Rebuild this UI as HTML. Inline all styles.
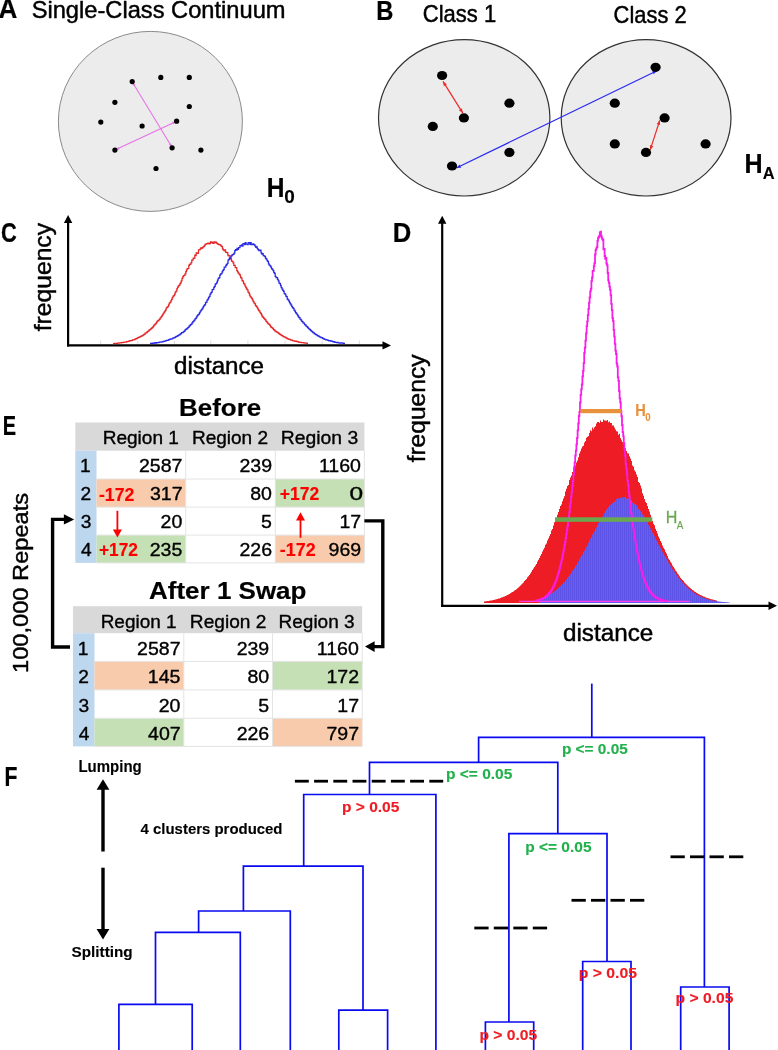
<!DOCTYPE html>
<html><head><meta charset="utf-8"><title>Figure</title>
<style>html,body{margin:0;padding:0;background:#fff}svg{display:block}text{font-family:"Liberation Sans",Arial,sans-serif}</style>
</head><body>
<svg width="778" height="1050" viewBox="0 0 778 1050">
<rect width="778" height="1050" fill="#fff"/>
<text transform="translate(-1.45,18.2) scale(0.9638,1)" font-size="27.1" font-weight="bold" fill="#000"  stroke="#000" stroke-width="0.22" stroke-linejoin="round">A</text>
<text transform="translate(31.63,18.3) scale(1.0078,1)" font-size="23.5" font-weight="normal" fill="#000"  stroke="#000" stroke-width="0.45" stroke-linejoin="round">Single-Class Continuum</text>
<ellipse cx="150.4" cy="121.4" rx="92" ry="90" fill="#ececec" stroke="#8a8a8a" stroke-width="1"/>
<line x1="132.6" y1="82.6" x2="171.7" y2="146.8" stroke="#e670e6" stroke-width="1.05" />
<polygon points="171.7,146.8 168.8,144.8 171.2,143.3" fill="#e670e6"/>
<polygon points="132.6,82.6 135.5,84.6 133.1,86.1" fill="#e670e6"/>
<line x1="116.0" y1="149.6" x2="175.6" y2="121.7" stroke="#e670e6" stroke-width="1.05" />
<polygon points="175.6,121.7 173.3,124.3 172.1,121.8" fill="#e670e6"/>
<polygon points="116.0,149.6 118.3,147.0 119.5,149.5" fill="#e670e6"/>
<circle cx="132.2" cy="81.6" r="2.6" fill="#000"/>
<circle cx="160.8" cy="77.4" r="2.6" fill="#000"/>
<circle cx="189.3" cy="77.4" r="2.6" fill="#000"/>
<circle cx="114.9" cy="102.3" r="2.6" fill="#000"/>
<circle cx="189.3" cy="106.5" r="2.6" fill="#000"/>
<circle cx="100.8" cy="122.1" r="2.6" fill="#000"/>
<circle cx="142.1" cy="126.0" r="2.6" fill="#000"/>
<circle cx="176.6" cy="121.2" r="2.6" fill="#000"/>
<circle cx="114.9" cy="150.1" r="2.6" fill="#000"/>
<circle cx="172.1" cy="147.8" r="2.6" fill="#000"/>
<circle cx="200.9" cy="150.1" r="2.6" fill="#000"/>
<circle cx="156.0" cy="168.5" r="2.6" fill="#000"/>
<text transform="translate(266.70,197.3) scale(0.9069,1)" font-size="27.1" font-weight="bold" fill="#000"  stroke="#000" stroke-width="0.22" stroke-linejoin="round">H</text>
<text transform="translate(284.24,203.2) scale(1.0645,1)" font-size="17.8" font-weight="bold" fill="#000"  stroke="#000" stroke-width="0.14" stroke-linejoin="round">0</text>
<text transform="translate(376.15,19.7) scale(0.8771,1)" font-size="27.1" font-weight="bold" fill="#000"  stroke="#000" stroke-width="0.22" stroke-linejoin="round">B</text>
<text transform="translate(422.80,21.6) scale(0.9379,1)" font-size="23.5" font-weight="normal" fill="#000"  stroke="#000" stroke-width="0.45" stroke-linejoin="round">Class 1</text>
<text transform="translate(613.60,22.8) scale(0.9326,1)" font-size="23.5" font-weight="normal" fill="#000"  stroke="#000" stroke-width="0.45" stroke-linejoin="round">Class 2</text>
<ellipse cx="464.2" cy="117.8" rx="85.7" ry="78.2" fill="#ececec" stroke="#333" stroke-width="1.2"/>
<ellipse cx="646.1" cy="117.8" rx="84.9" ry="78.2" fill="#ececec" stroke="#333" stroke-width="1.2"/>
<line x1="456.3" y1="168.0" x2="657.0" y2="70.7" stroke="#2a2af0" stroke-width="1.2" />
<polygon points="657.0,70.7 653.7,74.3 652.2,71.0" fill="#2a2af0"/>
<polygon points="456.3,168.0 459.6,164.4 461.1,167.7" fill="#2a2af0"/>
<line x1="443.0" y1="81.4" x2="462.8" y2="113.1" stroke="#ee2a2a" stroke-width="1.2" />
<polygon points="462.8,113.1 458.9,110.2 461.9,108.3" fill="#ee2a2a"/>
<polygon points="443.0,81.4 446.9,84.3 443.9,86.2" fill="#ee2a2a"/>
<line x1="659.8" y1="120.2" x2="650.2" y2="149.9" stroke="#ee2a2a" stroke-width="1.2" />
<polygon points="650.2,149.9 649.9,145.1 653.3,146.2" fill="#ee2a2a"/>
<polygon points="659.8,120.2 660.1,125.0 656.7,123.9" fill="#ee2a2a"/>
<ellipse cx="442.1" cy="75.5" rx="5.1" ry="4.6" fill="#000"/>
<ellipse cx="509.4" cy="103.2" rx="5.1" ry="4.6" fill="#000"/>
<ellipse cx="463.9" cy="117.9" rx="5.1" ry="4.6" fill="#000"/>
<ellipse cx="432.8" cy="126.4" rx="5.1" ry="4.6" fill="#000"/>
<ellipse cx="509.4" cy="152.4" rx="5.1" ry="4.6" fill="#000"/>
<ellipse cx="452" cy="166" rx="5.1" ry="4.6" fill="#000"/>
<ellipse cx="655.6" cy="67.3" rx="5.1" ry="4.6" fill="#000"/>
<ellipse cx="614.8" cy="103.2" rx="5.1" ry="4.6" fill="#000"/>
<ellipse cx="664.6" cy="117.9" rx="5.1" ry="4.6" fill="#000"/>
<ellipse cx="614.8" cy="143.9" rx="5.1" ry="4.6" fill="#000"/>
<ellipse cx="646" cy="152.4" rx="5.1" ry="4.6" fill="#000"/>
<ellipse cx="705.6" cy="143.9" rx="5.1" ry="4.6" fill="#000"/>
<text transform="translate(744.47,173.2) scale(0.9256,1)" font-size="27.1" font-weight="bold" fill="#000"  stroke="#000" stroke-width="0.22" stroke-linejoin="round">H</text>
<text transform="translate(762.69,178.9) scale(0.9545,1)" font-size="17.2" font-weight="bold" fill="#000"  stroke="#000" stroke-width="0.14" stroke-linejoin="round">A</text>
<text transform="translate(1.03,241.7) scale(0.8056,1)" font-size="27.1" font-weight="bold" fill="#000"  stroke="#000" stroke-width="0.22" stroke-linejoin="round">C</text>
<text transform="translate(50.7,331.37) rotate(-90) scale(1.0735,1)" font-size="23" font-weight="normal" fill="#000" stroke="#000" stroke-width="0.44" stroke-linejoin="round">frequency</text>
<line x1="68.1" y1="346.5" x2="68.1" y2="221.0" stroke="#000" stroke-width="2.2" />
<polygon points="68.1,215.0 72.3,223.0 63.9,223.0" fill="#000"/>
<line x1="100.6" y1="340.5" x2="100.6" y2="344.3" stroke="#dcdcdc" stroke-width="1" />
<line x1="137.8" y1="340.5" x2="137.8" y2="344.3" stroke="#dcdcdc" stroke-width="1" />
<line x1="174.5" y1="340.5" x2="174.5" y2="344.3" stroke="#dcdcdc" stroke-width="1" />
<line x1="210.8" y1="340.5" x2="210.8" y2="344.3" stroke="#dcdcdc" stroke-width="1" />
<line x1="247.9" y1="340.5" x2="247.9" y2="344.3" stroke="#dcdcdc" stroke-width="1" />
<line x1="285.0" y1="340.5" x2="285.0" y2="344.3" stroke="#dcdcdc" stroke-width="1" />
<line x1="322.2" y1="340.5" x2="322.2" y2="344.3" stroke="#dcdcdc" stroke-width="1" />
<line x1="359.4" y1="340.5" x2="359.4" y2="344.3" stroke="#dcdcdc" stroke-width="1" />
<line x1="67.0" y1="345.4" x2="384.0" y2="345.4" stroke="#000" stroke-width="2.2" />
<polygon points="391.0,345.4 382.5,349.6 382.5,341.2" fill="#000"/>
<path d="M113.0,343.6H113.8V343.5H114.5V343.4H115.2V343.4H116.0V343.3H116.8V343.4H117.5V343.0H118.2V343.2H119.0V342.8H119.8V342.9H120.5V342.9H121.2V342.7H122.0V342.7H122.8V342.3H123.5V342.3H124.2V342.2H125.0V342.2H125.8V342.0H126.5V341.7H127.2V341.5H128.0V341.4H128.8V341.0H129.5V340.9H130.2V340.6H131.0V340.6H131.8V340.4H132.5V339.9H133.2V339.8H134.0V339.5H134.8V339.1H135.5V338.9H136.2V338.5H137.0V338.2H137.8V337.6H138.5V337.4H139.2V337.1H140.0V336.5H140.8V336.3H141.5V335.8H142.2V335.5H143.0V335.1H143.8V334.4H144.5V334.1H145.2V333.2H146.0V332.9H146.8V332.0H147.5V331.4H148.2V331.1H149.0V330.2H149.8V329.6H150.5V329.2H151.2V328.3H152.0V327.5H152.8V326.9H153.5V325.9H154.2V324.8H155.0V324.2H155.8V323.4H156.5V322.1H157.2V321.2H158.0V320.7H158.8V319.8H159.5V319.0H160.2V317.9H161.0V316.8H161.8V315.9H162.5V314.7H163.2V313.4H164.0V312.1H164.8V311.1H165.5V309.9H166.2V307.9H167.0V307.2H167.8V306.5H168.5V304.9H169.2V303.1H170.0V302.3H170.8V300.8H171.5V299.4H172.2V297.7H173.0V296.0H173.8V295.5H174.5V294.0H175.2V292.1H176.0V291.2H176.8V288.8H177.5V287.3H178.2V285.9H179.0V285.4H179.8V283.9H180.5V282.8H181.2V280.9H182.0V278.4H182.8V276.7H183.5V275.5H184.2V275.3H185.0V273.9H185.8V271.5H186.5V269.8H187.2V268.6H188.0V268.3H188.8V265.4H189.5V264.4H190.2V264.1H191.0V262.5H191.8V260.1H192.5V259.8H193.2V258.2H194.0V258.3H194.8V255.2H195.5V255.7H196.2V252.9H197.0V253.3H197.8V253.0H198.5V249.9H199.2V249.8H200.0V249.2H200.8V247.8H201.5V248.3H202.2V247.5H203.0V246.8H203.8V246.3H204.5V245.4H205.2V244.1H206.0V244.0H206.8V243.6H207.5V243.4H208.2V243.2H209.0V243.8H209.8V243.3H210.5V241.8H211.2V242.7H212.0V242.1H212.8V243.3H213.5V243.2H214.2V241.9H215.0V242.6H215.8V242.1H216.5V243.2H217.2V243.7H218.0V244.4H218.8V244.6H219.5V244.7H220.2V245.0H221.0V246.2H221.8V246.6H222.5V248.9H223.2V249.9H224.0V250.6H224.8V249.8H225.5V252.2H226.2V252.3H227.0V252.5H227.8V255.0H228.5V255.9H229.2V255.6H230.0V258.7H230.8V259.2H231.5V261.1H232.2V261.4H233.0V262.9H233.8V265.3H234.5V265.4H235.2V267.6H236.0V267.7H236.8V270.6H237.5V271.9H238.2V273.1H239.0V274.0H239.8V275.1H240.5V277.3H241.2V278.2H242.0V280.7H242.8V281.1H243.5V283.3H244.2V284.0H245.0V286.2H245.8V287.7H246.5V288.8H247.2V289.9H248.0V292.0H248.8V293.1H249.5V295.1H250.2V296.5H251.0V297.6H251.8V298.5H252.5V300.2H253.2V301.7H254.0V303.2H254.8V303.8H255.5V305.6H256.2V306.4H257.0V307.6H257.8V309.0H258.5V310.4H259.2V311.2H260.0V312.7H260.8V313.6H261.5V315.0H262.2V316.5H263.0V317.3H263.8V318.4H264.5V319.2H265.2V319.8H266.0V321.3H266.8V322.2H267.5V323.1H268.2V323.8H269.0V324.4H269.8V325.4H270.5V326.5H271.2V327.4H272.0V327.9H272.8V328.7H273.5V329.6H274.2V330.2H275.0V331.0H275.8V331.5H276.5V331.9H277.2V332.4H278.0V332.9H278.8V333.7H279.5V334.2H280.2V334.6H281.0V335.1H281.8V335.5H282.5V335.9H283.2V336.6H284.0V336.8H284.8V337.1H285.5V337.5H286.2V337.9H287.0V338.6H287.8V338.8H288.5V339.0H289.2V339.3H290.0V339.5H290.8V340.1H291.5V340.0H292.2V340.4H293.0V340.8H293.8V340.9H294.5V341.2H295.2V341.3H296.0V341.2H296.8V341.7H297.5V341.7H298.2V341.9H299.0V342.3H299.8V342.3H300.5V342.4H301.2V342.7H302.0V342.7H302.8V342.6H303.5V342.9H304.2V342.9H305.0V343.2H305.8V343.2H306.5V343.0H307.2V343.3H308.0V343.3" fill="none" stroke="#e42828" stroke-width="1.25"/>
<path d="M150.0,343.4H150.8V343.4H151.5V343.3H152.2V343.2H153.0V343.3H153.8V343.1H154.5V342.9H155.2V342.7H156.0V343.0H156.8V342.7H157.5V342.7H158.2V342.5H159.0V342.2H159.8V342.1H160.5V342.2H161.2V341.8H162.0V341.8H162.8V341.6H163.5V341.3H164.2V341.2H165.0V341.2H165.8V340.7H166.5V340.4H167.2V340.4H168.0V340.2H168.8V339.6H169.5V339.4H170.2V339.1H171.0V338.9H171.8V338.8H172.5V338.3H173.2V337.9H174.0V337.8H174.8V337.3H175.5V336.9H176.2V336.4H177.0V336.0H177.8V335.6H178.5V335.1H179.2V334.8H180.0V334.0H180.8V333.7H181.5V332.7H182.2V332.6H183.0V332.1H183.8V331.4H184.5V330.8H185.2V329.7H186.0V329.2H186.8V328.5H187.5V327.9H188.2V327.3H189.0V326.2H189.8V325.4H190.5V324.5H191.2V324.0H192.0V322.9H192.8V321.6H193.5V321.0H194.2V320.2H195.0V318.8H195.8V318.2H196.5V316.9H197.2V315.6H198.0V314.7H198.8V314.2H199.5V312.6H200.2V311.1H201.0V310.1H201.8V309.1H202.5V308.2H203.2V306.7H204.0V305.3H204.8V304.6H205.5V302.6H206.2V302.1H207.0V300.1H207.8V299.0H208.5V297.5H209.2V296.3H210.0V294.0H210.8V292.8H211.5V292.2H212.2V289.7H213.0V289.4H213.8V287.4H214.5V286.3H215.2V284.2H216.0V283.7H216.8V282.0H217.5V280.1H218.2V278.3H219.0V277.5H219.8V275.2H220.5V274.1H221.2V273.5H222.0V271.9H222.8V270.4H223.5V269.5H224.2V267.1H225.0V267.0H225.8V265.3H226.5V264.5H227.2V263.3H228.0V260.2H228.8V259.3H229.5V257.9H230.2V258.1H231.0V256.2H231.8V255.1H232.5V254.7H233.2V254.3H234.0V253.0H234.8V250.6H235.5V249.7H236.2V250.0H237.0V248.3H237.8V249.3H238.5V247.7H239.2V247.7H240.0V245.6H240.8V245.9H241.5V244.9H242.2V246.2H243.0V243.7H243.8V243.5H244.5V244.5H245.2V242.6H246.0V244.1H246.8V244.1H247.5V244.6H248.2V242.5H249.0V242.7H249.8V244.4H250.5V242.6H251.2V244.5H252.0V244.6H252.8V243.9H253.5V244.4H254.2V244.8H255.0V246.0H255.8V247.3H256.5V246.9H257.2V248.7H258.0V249.6H258.8V250.6H259.5V250.6H260.2V250.2H261.0V252.9H261.8V254.0H262.5V253.7H263.2V255.7H264.0V255.9H264.8V256.6H265.5V258.3H266.2V259.0H267.0V260.7H267.8V261.7H268.5V263.9H269.2V265.1H270.0V265.8H270.8V267.2H271.5V268.7H272.2V269.3H273.0V270.6H273.8V272.6H274.5V273.4H275.2V276.4H276.0V277.7H276.8V277.7H277.5V279.3H278.2V280.8H279.0V283.0H279.8V283.7H280.5V285.5H281.2V287.6H282.0V289.2H282.8V290.3H283.5V291.4H284.2V293.5H285.0V294.2H285.8V296.0H286.5V296.7H287.2V299.1H288.0V299.9H288.8V301.1H289.5V302.7H290.2V303.9H291.0V305.0H291.8V306.5H292.5V307.7H293.2V308.3H294.0V310.2H294.8V311.1H295.5V312.6H296.2V313.4H297.0V314.5H297.8V315.9H298.5V317.1H299.2V317.5H300.0V319.0H300.8V319.9H301.5V321.1H302.2V321.5H303.0V322.8H303.8V323.2H304.5V324.7H305.2V324.8H306.0V326.2H306.8V326.7H307.5V327.4H308.2V328.3H309.0V329.0H309.8V329.6H310.5V330.4H311.2V331.2H312.0V331.7H312.8V332.5H313.5V332.6H314.2V333.5H315.0V334.1H315.8V334.5H316.5V334.9H317.2V335.5H318.0V335.9H318.8V336.3H319.5V336.8H320.2V337.2H321.0V337.6H321.8V337.7H322.5V338.4H323.2V338.7H324.0V339.0H324.8V339.3H325.5V339.7H326.2V339.9H327.0V339.9H327.8V340.4H328.5V340.5H329.2V340.8H330.0V340.7H330.8V341.0H331.5V341.2H332.2V341.3H333.0V341.8H333.8V341.7H334.5V342.1H335.2V342.3H336.0V342.4H336.8V342.5H337.5V342.4H338.2V342.8H339.0V342.8H339.8V343.0H340.5V342.8H341.2V342.9H342.0V343.0H342.8V343.2H343.5V343.3H344.2V343.4H345.0V343.4" fill="none" stroke="#2828e4" stroke-width="1.25"/>
<text transform="translate(174.03,374) scale(1.0421,1)" font-size="23.2" font-weight="normal" fill="#000"  stroke="#000" stroke-width="0.44" stroke-linejoin="round">distance</text>
<text transform="translate(392.63,241.8) scale(0.9480,1)" font-size="27.1" font-weight="bold" fill="#000"  stroke="#000" stroke-width="0.22" stroke-linejoin="round">D</text>
<text transform="translate(425.1,462.37) rotate(-90) scale(1.0676,1)" font-size="23" font-weight="normal" fill="#000" stroke="#000" stroke-width="0.44" stroke-linejoin="round">frequency</text>
<line x1="442.2" y1="607.0" x2="442.2" y2="222.0" stroke="#000" stroke-width="2.2" />
<polygon points="442.2,215.8 446.4,223.7 438.0,223.7" fill="#000"/>
<path d="M484.0,603.0V601.5V601.5H485.0V601.3H486.0V601.2H487.0V601.1H488.0V600.9H489.0V600.8H490.0V600.6H491.0V600.4H492.0V600.2H493.0V600.0H494.0V599.7H495.0V599.5H496.0V599.2H497.0V599.0H498.0V598.6H499.0V598.4H500.0V598.0H501.0V597.6H502.0V597.3H503.0V596.8H504.0V596.5H505.0V596.1H506.0V595.6H507.0V595.1H508.0V594.5H509.0V593.9H510.0V593.3H511.0V592.6H512.0V592.1H513.0V591.4H514.0V590.6H515.0V590.0H516.0V589.2H517.0V588.3H518.0V587.5H519.0V586.5H520.0V585.6H521.0V584.4H522.0V583.4H523.0V582.4H524.0V581.1H525.0V580.0H526.0V578.9H527.0V577.2H528.0V576.3H529.0V574.9H530.0V573.5H531.0V571.7H532.0V570.0H533.0V568.5H534.0V567.1H535.0V565.5H536.0V563.9H537.0V561.6H538.0V559.8H539.0V558.1H540.0V555.8H541.0V554.0H542.0V551.4H543.0V549.5H544.0V547.8H545.0V544.8H546.0V543.5H547.0V540.6H548.0V538.4H549.0V536.2H550.0V534.0H551.0V530.4H552.0V529.0H553.0V525.6H554.0V522.3H555.0V520.9H556.0V518.2H557.0V514.7H558.0V512.1H559.0V509.1H560.0V505.9H561.0V504.4H562.0V501.3H563.0V498.5H564.0V496.2H565.0V491.5H566.0V488.8H567.0V486.1H568.0V484.9H569.0V480.1H570.0V477.5H571.0V475.4H572.0V471.9H573.0V469.9H574.0V467.8H575.0V465.5H576.0V462.5H577.0V460.5H578.0V457.2H579.0V453.5H580.0V451.2H581.0V448.4H582.0V446.5H583.0V445.7H584.0V442.6H585.0V441.0H586.0V437.8H587.0V436.8H588.0V435.9H589.0V432.9H590.0V430.2H591.0V431.3H592.0V427.6H593.0V429.3H594.0V427.3H595.0V426.3H596.0V423.5H597.0V422.0H598.0V422.0H599.0V422.9H600.0V420.4H601.0V422.0H602.0V422.1H603.0V419.5H604.0V420.5H605.0V420.4H606.0V420.8H607.0V420.0H608.0V422.3H609.0V421.6H610.0V422.9H611.0V423.1H612.0V425.6H613.0V425.6H614.0V427.4H615.0V429.6H616.0V431.3H617.0V431.4H618.0V434.8H619.0V433.7H620.0V438.1H621.0V440.3H622.0V442.0H623.0V441.4H624.0V445.4H625.0V448.3H626.0V450.9H627.0V453.2H628.0V453.6H629.0V456.3H630.0V458.6H631.0V461.1H632.0V465.6H633.0V466.8H634.0V470.2H635.0V471.7H636.0V474.5H637.0V477.1H638.0V482.0H639.0V482.9H640.0V485.6H641.0V488.5H642.0V493.2H643.0V495.8H644.0V498.9H645.0V501.8H646.0V503.0H647.0V505.9H648.0V509.1H649.0V511.6H650.0V514.7H651.0V518.0H652.0V521.0H653.0V523.7H654.0V525.3H655.0V528.7H656.0V531.1H657.0V533.5H658.0V536.5H659.0V538.6H660.0V540.9H661.0V542.7H662.0V545.4H663.0V547.7H664.0V549.2H665.0V551.8H666.0V553.6H667.0V555.9H668.0V558.4H669.0V559.9H670.0V561.8H671.0V563.3H672.0V565.4H673.0V566.9H674.0V568.6H675.0V570.5H676.0V571.6H677.0V573.5H678.0V574.6H679.0V576.3H680.0V577.7H681.0V578.9H682.0V579.9H683.0V581.0H684.0V582.5H685.0V583.4H686.0V584.5H687.0V585.4H688.0V586.5H689.0V587.3H690.0V588.3H691.0V589.0H692.0V589.9H693.0V590.5H694.0V591.4H695.0V592.1H696.0V592.7H697.0V593.3H698.0V594.0H699.0V594.4H700.0V595.1H701.0V595.5H702.0V596.0H703.0V596.4H704.0V596.8H705.0V597.3H706.0V597.7H707.0V598.0H708.0V598.3H709.0V598.7H710.0V598.9H711.0V599.3H712.0V599.5H713.0V599.8H714.0V600.0H715.0V600.2H716.0V600.4H717.0V603.0Z" fill="#ee1c24"/>
<defs><pattern id="bp" width="2" height="4" patternUnits="userSpaceOnUse"><rect width="2" height="4" fill="#6a5ef2"/><rect width="0.8" height="4" fill="#5a50e4"/></pattern></defs>
<path d="M539.0,603.0V598.9V598.9H540.0V598.6H541.0V598.3H542.0V597.9H543.0V597.5H544.0V597.0H545.0V596.6H546.0V596.2H547.0V595.7H548.0V595.2H549.0V594.5H550.0V593.9H551.0V593.3H552.0V592.7H553.0V592.0H554.0V591.2H555.0V590.4H556.0V589.8H557.0V588.8H558.0V587.8H559.0V587.1H560.0V586.1H561.0V585.1H562.0V583.9H563.0V582.7H564.0V581.9H565.0V580.7H566.0V579.4H567.0V578.1H568.0V576.7H569.0V575.6H570.0V574.1H571.0V572.7H572.0V570.7H573.0V569.4H574.0V568.2H575.0V566.0H576.0V565.0H577.0V563.1H578.0V560.9H579.0V559.3H580.0V557.6H581.0V556.0H582.0V554.4H583.0V552.1H584.0V550.8H585.0V548.8H586.0V546.7H587.0V545.2H588.0V542.8H589.0V540.4H590.0V538.6H591.0V536.9H592.0V534.7H593.0V533.0H594.0V531.6H595.0V529.0H596.0V527.4H597.0V525.0H598.0V522.9H599.0V521.9H600.0V519.8H601.0V517.8H602.0V516.7H603.0V515.4H604.0V512.9H605.0V511.1H606.0V509.8H607.0V508.5H608.0V506.9H609.0V506.0H610.0V504.8H611.0V504.1H612.0V503.3H613.0V501.8H614.0V502.0H615.0V500.5H616.0V499.1H617.0V498.6H618.0V498.3H619.0V498.7H620.0V498.0H621.0V497.7H622.0V497.3H623.0V497.7H624.0V497.2H625.0V496.9H626.0V498.7H627.0V498.1H628.0V498.3H629.0V499.7H630.0V500.1H631.0V499.9H632.0V502.6H633.0V502.5H634.0V504.3H635.0V504.1H636.0V505.0H637.0V507.0H638.0V509.1H639.0V509.6H640.0V511.1H641.0V512.3H642.0V514.2H643.0V515.6H644.0V517.0H645.0V519.2H646.0V521.2H647.0V522.1H648.0V525.1H649.0V526.2H650.0V528.5H651.0V529.9H652.0V532.7H653.0V533.5H654.0V536.3H655.0V538.6H656.0V540.3H657.0V542.1H658.0V544.5H659.0V545.9H660.0V547.8H661.0V549.4H662.0V551.7H663.0V553.6H664.0V555.5H665.0V556.8H666.0V558.5H667.0V560.6H668.0V562.6H669.0V563.8H670.0V565.8H671.0V567.5H672.0V569.2H673.0V570.3H674.0V571.8H675.0V573.3H676.0V574.8H677.0V576.2H678.0V577.7H679.0V578.6H680.0V580.1H681.0V581.2H682.0V582.3H683.0V583.4H684.0V584.6H685.0V585.7H686.0V586.6H687.0V587.7H688.0V588.4H689.0V589.4H690.0V590.1H691.0V591.0H692.0V591.7H693.0V592.4H694.0V593.1H695.0V593.8H696.0V594.4H697.0V594.9H698.0V595.5H699.0V596.0H700.0V596.5H701.0V596.9H702.0V597.3H703.0V597.7H704.0V598.1H705.0V598.5H706.0V598.8H707.0V599.1H708.0V599.4H709.0V599.7H710.0V599.9H711.0V600.2H712.0V600.4H713.0V600.6H714.0V600.8H715.0V601.0H716.0V601.2H717.0V601.3H718.0V601.4H719.0V601.6H720.0V601.7H721.0V601.8H722.0V601.9H723.0V602.0H724.0V602.1H725.0V602.2H726.0V602.3H727.0V602.3H728.0V602.4H729.0V602.4H730.0V603.0Z" fill="url(#bp)"/>
<path d="M519,601.3H690" stroke="#ff40e8" stroke-width="1.2" fill="none"/>
<path d="M535.0,600.7H535.6V600.6H536.2V600.5H536.8V600.4H537.4V600.3H538.0V600.1H538.6V600.0H539.2V599.8H539.8V599.6H540.4V599.4H541.0V599.2H541.6V599.0H542.2V598.7H542.8V598.4H543.4V598.1H544.0V597.8H544.6V597.4H545.2V597.0H545.8V596.5H546.4V596.0H547.0V595.5H547.6V594.9H548.2V594.3H548.8V593.5H549.4V592.9H550.0V592.0H550.6V591.2H551.2V590.3H551.8V589.3H552.4V588.2H553.0V587.1H553.6V585.9H554.2V584.4H554.8V583.4H555.4V581.7H556.0V580.1H556.6V578.7H557.2V576.6H557.8V574.6H558.4V572.5H559.0V570.7H559.6V568.0H560.2V565.9H560.8V563.4H561.4V560.4H562.0V558.3H562.6V554.7H563.2V551.7H563.8V548.8H564.4V544.8H565.0V541.8H565.6V537.9H566.2V534.0H566.8V529.6H567.4V526.2H568.0V521.5H568.6V517.0H569.2V512.0H569.8V506.6H570.4V502.6H571.0V496.3H571.6V491.9H572.2V486.2H572.8V481.1H573.4V474.7H574.0V467.5H574.6V462.3H575.2V455.6H575.8V450.7H576.4V444.3H577.0V437.9H577.6V430.3H578.2V423.4H578.8V416.0H579.4V412.0H580.0V402.5H580.6V394.8H581.2V389.3H581.8V384.5H582.4V376.5H583.0V370.9H583.6V363.2H584.2V352.8H584.8V347.6H585.4V340.6H586.0V333.3H586.6V326.1H587.2V321.3H587.8V315.1H588.4V308.9H589.0V302.6H589.6V297.5H590.2V291.4H590.8V289.0H591.4V281.1H592.0V277.5H592.6V270.9H593.2V270.8H593.8V266.1H594.4V263.2H595.0V254.4H595.6V249.9H596.2V248.3H596.8V247.1H597.4V240.8H598.0V238.1H598.6V236.8H599.2V236.0H599.8V232.6H600.4V231.7H601.0V235.6H601.6V237.7H602.2V239.2H602.8V240.0H603.4V249.4H604.0V248.9H604.6V256.0H605.2V258.9H605.8V257.9H606.4V263.5H607.0V265.4H607.6V273.0H608.2V280.4H608.8V282.9H609.4V286.7H610.0V289.8H610.6V295.1H611.2V303.9H611.8V310.2H612.4V318.0H613.0V321.1H613.6V329.9H614.2V336.7H614.8V343.9H615.4V350.6H616.0V354.0H616.6V363.5H617.2V366.5H617.8V377.4H618.4V380.9H619.0V391.0H619.6V398.4H620.2V402.5H620.8V411.2H621.4V416.2H622.0V425.0H622.6V432.1H623.2V436.3H623.8V443.1H624.4V449.1H625.0V455.8H625.6V463.8H626.2V468.4H626.8V474.2H627.4V480.6H628.0V485.2H628.6V492.2H629.2V496.0H629.8V501.8H630.4V508.2H631.0V513.0H631.6V516.6H632.2V520.9H632.8V526.4H633.4V530.2H634.0V533.7H634.6V538.3H635.2V541.2H635.8V545.2H636.4V549.1H637.0V552.0H637.6V554.9H638.2V558.0H638.8V560.6H639.4V563.7H640.0V565.7H640.6V568.4H641.2V570.5H641.8V572.6H642.4V574.8H643.0V576.7H643.6V578.3H644.2V579.9H644.8V581.6H645.4V583.2H646.0V584.7H646.6V586.0H647.2V587.0H647.8V588.2H648.4V589.2H649.0V590.3H649.6V591.2H650.2V592.0H650.8V592.8H651.4V593.6H652.0V594.3H652.6V594.9H653.2V595.4H653.8V596.0H654.4V596.5H655.0V596.9H655.6V597.3H656.2V597.7H656.8V598.1H657.4V598.4H658.0V598.7H658.6V599.0H659.2V599.2H659.8V599.4H660.4V599.6H661.0V599.8H661.6V600.0H662.2V600.1H662.8V600.3H663.4V600.4H664.0V600.5H664.6V600.6H665.2V600.7H665.8V600.8H666.4V600.9H667.0V601.0H667.6V601.0" fill="none" stroke="#f81ee8" stroke-width="1.8"/>
<line x1="441.1" y1="605.8" x2="770.0" y2="605.8" stroke="#000" stroke-width="2.2" />
<polygon points="777.0,605.8 768.5,610.0 768.5,601.6" fill="#000"/>
<rect x="580.4" y="409" width="41.3" height="4.2" fill="#e8913c"/>
<rect x="555" y="517.3" width="97.3" height="4.5" fill="#6aa84f"/>
<text transform="translate(635.15,415.6) scale(0.9110,1)" font-size="16" font-weight="bold" fill="#e8913c"  stroke="#e8913c" stroke-width="0.13" stroke-linejoin="round">H</text>
<text transform="translate(645.21,421.4) scale(0.9223,1)" font-size="10.5" font-weight="bold" fill="#e8913c"  stroke="#e8913c" stroke-width="0.08" stroke-linejoin="round">0</text>
<text transform="translate(665.81,522.8) scale(0.9740,1)" font-size="16.5" font-weight="normal" fill="#6aa84f"  stroke="#6aa84f" stroke-width="0.31" stroke-linejoin="round">H</text>
<text transform="translate(676.75,528.8) scale(0.9470,1)" font-size="10.4" font-weight="normal" fill="#6aa84f"  stroke="#6aa84f" stroke-width="0.20" stroke-linejoin="round">A</text>
<text transform="translate(562.93,640.9) scale(1.0468,1)" font-size="23.2" font-weight="normal" fill="#000"  stroke="#000" stroke-width="0.44" stroke-linejoin="round">distance</text>
<text transform="translate(2.70,435.1) scale(0.7380,1)" font-size="27.1" font-weight="bold" fill="#000"  stroke="#000" stroke-width="0.22" stroke-linejoin="round">E</text>
<text transform="translate(27.7,672.97) rotate(-90) scale(1.0756,1)" font-size="22" font-weight="normal" fill="#000" stroke="#000" stroke-width="0.42" stroke-linejoin="round">100,000 Repeats</text>
<text transform="translate(179.12,415.5) scale(1.0531,1)" font-size="24.6" font-weight="bold" fill="#000"  stroke="#000" stroke-width="0.20" stroke-linejoin="round">Before</text>
<text transform="translate(149.05,598.6) scale(1.0566,1)" font-size="24.6" font-weight="bold" fill="#000"  stroke="#000" stroke-width="0.20" stroke-linejoin="round">After 1 Swap</text>
<rect x="75.3" y="422.5" width="289.1" height="28.2" fill="#d9d9d9"/>
<rect x="75.3" y="450.7" width="21.2" height="112.2" fill="#bdd7ee"/>
<rect x="96.5" y="479" width="89.2" height="28.1" fill="#f8cbad"/>
<rect x="96.5" y="535.1" width="89.2" height="27.8" fill="#c5e0b4"/>
<rect x="275.3" y="479" width="89.1" height="28.1" fill="#c5e0b4"/>
<rect x="275.3" y="535.1" width="89.1" height="27.8" fill="#f8cbad"/>
<line x1="96.5" y1="479.0" x2="364.4" y2="479.0" stroke="#e4e4e4" stroke-width="1" />
<line x1="96.5" y1="507.1" x2="364.4" y2="507.1" stroke="#e4e4e4" stroke-width="1" />
<line x1="96.5" y1="535.1" x2="364.4" y2="535.1" stroke="#e4e4e4" stroke-width="1" />
<line x1="96.5" y1="562.9" x2="364.4" y2="562.9" stroke="#e4e4e4" stroke-width="1" />
<line x1="185.7" y1="450.7" x2="185.7" y2="562.9" stroke="#e4e4e4" stroke-width="1" />
<line x1="275.3" y1="450.7" x2="275.3" y2="562.9" stroke="#e4e4e4" stroke-width="1" />
<line x1="364.4" y1="450.7" x2="364.4" y2="562.9" stroke="#e4e4e4" stroke-width="1" />
<text transform="translate(102.67,444.3) scale(1.0037,1)" font-size="19" font-weight="normal" fill="#000"  stroke="#000" stroke-width="0.36" stroke-linejoin="round">Region 1</text>
<text transform="translate(191.88,444.3) scale(1.0023,1)" font-size="19" font-weight="normal" fill="#000"  stroke="#000" stroke-width="0.36" stroke-linejoin="round">Region 2</text>
<text transform="translate(280.85,444.3) scale(1.0173,1)" font-size="19" font-weight="normal" fill="#000"  stroke="#000" stroke-width="0.36" stroke-linejoin="round">Region 3</text>
<text transform="translate(80.06,472.2) scale(1.0200,1)" font-size="18.8" font-weight="normal" fill="#000" stroke="#000" stroke-width="0.36" stroke-linejoin="round">1</text>
<text transform="translate(138.97,472.2) scale(1.0400,1)" font-size="18.8" font-weight="normal" fill="#000" stroke="#000" stroke-width="0.36" stroke-linejoin="round">2587</text>
<text transform="translate(239.43,472.2) scale(1.0400,1)" font-size="18.8" font-weight="normal" fill="#000" stroke="#000" stroke-width="0.36" stroke-linejoin="round">239</text>
<text transform="translate(318.95,472.2) scale(1.0400,1)" font-size="18.8" font-weight="normal" fill="#000" stroke="#000" stroke-width="0.36" stroke-linejoin="round">1160</text>
<text transform="translate(80.54,500.3) scale(1.0200,1)" font-size="18.8" font-weight="normal" fill="#000" stroke="#000" stroke-width="0.36" stroke-linejoin="round">2</text>
<text transform="translate(149.92,500.3) scale(1.0400,1)" font-size="18.8" font-weight="normal" fill="#000" stroke="#000" stroke-width="0.36" stroke-linejoin="round">317</text>
<text transform="translate(250.18,500.3) scale(1.0400,1)" font-size="18.8" font-weight="normal" fill="#000" stroke="#000" stroke-width="0.36" stroke-linejoin="round">80</text>
<text transform="translate(349.52,500.3) scale(1.2990,1)" font-size="18.8" font-weight="normal" fill="#000"  stroke="#000" stroke-width="0.36" stroke-linejoin="round">0</text>
<text transform="translate(80.73,528.3000000000001) scale(1.0200,1)" font-size="18.8" font-weight="normal" fill="#000" stroke="#000" stroke-width="0.36" stroke-linejoin="round">3</text>
<text transform="translate(160.58,528.3000000000001) scale(1.0400,1)" font-size="18.8" font-weight="normal" fill="#000" stroke="#000" stroke-width="0.36" stroke-linejoin="round">20</text>
<text transform="translate(261.03,528.3000000000001) scale(1.0400,1)" font-size="18.8" font-weight="normal" fill="#000" stroke="#000" stroke-width="0.36" stroke-linejoin="round">5</text>
<text transform="translate(339.47,528.3000000000001) scale(1.0400,1)" font-size="18.8" font-weight="normal" fill="#000" stroke="#000" stroke-width="0.36" stroke-linejoin="round">17</text>
<text transform="translate(81.02,556.1) scale(1.0200,1)" font-size="18.8" font-weight="normal" fill="#000" stroke="#000" stroke-width="0.36" stroke-linejoin="round">4</text>
<text transform="translate(149.73,556.1) scale(1.0400,1)" font-size="18.8" font-weight="normal" fill="#000" stroke="#000" stroke-width="0.36" stroke-linejoin="round">235</text>
<text transform="translate(239.43,556.1) scale(1.0400,1)" font-size="18.8" font-weight="normal" fill="#000" stroke="#000" stroke-width="0.36" stroke-linejoin="round">226</text>
<text transform="translate(328.53,556.1) scale(1.0400,1)" font-size="18.8" font-weight="normal" fill="#000" stroke="#000" stroke-width="0.36" stroke-linejoin="round">969</text>
<text transform="translate(98.89,500.6) scale(1.0149,1)" font-size="17.5" font-weight="bold" fill="#ff0000"  stroke="#ff0000" stroke-width="0.14" stroke-linejoin="round">-172</text>
<text transform="translate(98.91,556.2) scale(0.9928,1)" font-size="17.5" font-weight="bold" fill="#ff0000"  stroke="#ff0000" stroke-width="0.14" stroke-linejoin="round">+172</text>
<text transform="translate(279.80,500.3) scale(1.0033,1)" font-size="17.5" font-weight="bold" fill="#ff0000"  stroke="#ff0000" stroke-width="0.14" stroke-linejoin="round">+172</text>
<text transform="translate(279.78,556.2) scale(1.0238,1)" font-size="17.5" font-weight="bold" fill="#ff0000"  stroke="#ff0000" stroke-width="0.14" stroke-linejoin="round">-172</text>
<line x1="117.4" y1="510.8" x2="117.4" y2="531.0" stroke="#ff0000" stroke-width="1.8" />
<polygon points="117.4,537.5 112.9,529.5 121.9,529.5" fill="#ff0000"/>
<line x1="300.5" y1="537.8" x2="300.5" y2="519.5" stroke="#ff0000" stroke-width="1.8" />
<polygon points="300.5,512.2 305.0,520.4 296.0,520.4" fill="#ff0000"/>
<rect x="73" y="606.2" width="289.2" height="27.0" fill="#d9d9d9"/>
<rect x="73" y="633.2" width="21.5" height="113.2" fill="#bdd7ee"/>
<rect x="94.5" y="661.4" width="89.3" height="28.5" fill="#f8cbad"/>
<rect x="94.5" y="718.3" width="89.3" height="28.1" fill="#c5e0b4"/>
<rect x="272.5" y="661.4" width="89.7" height="28.5" fill="#c5e0b4"/>
<rect x="272.5" y="718.3" width="89.7" height="28.1" fill="#f8cbad"/>
<line x1="94.5" y1="661.4" x2="362.2" y2="661.4" stroke="#e4e4e4" stroke-width="1" />
<line x1="94.5" y1="689.9" x2="362.2" y2="689.9" stroke="#e4e4e4" stroke-width="1" />
<line x1="94.5" y1="718.3" x2="362.2" y2="718.3" stroke="#e4e4e4" stroke-width="1" />
<line x1="94.5" y1="746.4" x2="362.2" y2="746.4" stroke="#e4e4e4" stroke-width="1" />
<line x1="183.8" y1="633.2" x2="183.8" y2="746.4" stroke="#e4e4e4" stroke-width="1" />
<line x1="272.5" y1="633.2" x2="272.5" y2="746.4" stroke="#e4e4e4" stroke-width="1" />
<line x1="362.2" y1="633.2" x2="362.2" y2="746.4" stroke="#e4e4e4" stroke-width="1" />
<text transform="translate(100.68,627.7) scale(0.9982,1)" font-size="19" font-weight="normal" fill="#000"  stroke="#000" stroke-width="0.36" stroke-linejoin="round">Region 1</text>
<text transform="translate(189.87,627.7) scale(1.0064,1)" font-size="19" font-weight="normal" fill="#000"  stroke="#000" stroke-width="0.36" stroke-linejoin="round">Region 2</text>
<text transform="translate(278.58,627.7) scale(0.9997,1)" font-size="19" font-weight="normal" fill="#000"  stroke="#000" stroke-width="0.36" stroke-linejoin="round">Region 3</text>
<text transform="translate(77.76,654.9) scale(1.0200,1)" font-size="18.8" font-weight="normal" fill="#000" stroke="#000" stroke-width="0.36" stroke-linejoin="round">1</text>
<text transform="translate(137.07,654.9) scale(1.0400,1)" font-size="18.8" font-weight="normal" fill="#000" stroke="#000" stroke-width="0.36" stroke-linejoin="round">2587</text>
<text transform="translate(236.63,654.9) scale(1.0400,1)" font-size="18.8" font-weight="normal" fill="#000" stroke="#000" stroke-width="0.36" stroke-linejoin="round">239</text>
<text transform="translate(316.75,654.9) scale(1.0400,1)" font-size="18.8" font-weight="normal" fill="#000" stroke="#000" stroke-width="0.36" stroke-linejoin="round">1160</text>
<text transform="translate(78.24,683.4) scale(1.0200,1)" font-size="18.8" font-weight="normal" fill="#000" stroke="#000" stroke-width="0.36" stroke-linejoin="round">2</text>
<text transform="translate(147.83,683.4) scale(1.0400,1)" font-size="18.8" font-weight="normal" fill="#000" stroke="#000" stroke-width="0.36" stroke-linejoin="round">145</text>
<text transform="translate(247.38,683.4) scale(1.0400,1)" font-size="18.8" font-weight="normal" fill="#000" stroke="#000" stroke-width="0.36" stroke-linejoin="round">80</text>
<text transform="translate(326.42,683.4) scale(1.0400,1)" font-size="18.8" font-weight="normal" fill="#000" stroke="#000" stroke-width="0.36" stroke-linejoin="round">172</text>
<text transform="translate(78.43,711.8) scale(1.0200,1)" font-size="18.8" font-weight="normal" fill="#000" stroke="#000" stroke-width="0.36" stroke-linejoin="round">3</text>
<text transform="translate(158.68,711.8) scale(1.0400,1)" font-size="18.8" font-weight="normal" fill="#000" stroke="#000" stroke-width="0.36" stroke-linejoin="round">20</text>
<text transform="translate(258.23,711.8) scale(1.0400,1)" font-size="18.8" font-weight="normal" fill="#000" stroke="#000" stroke-width="0.36" stroke-linejoin="round">5</text>
<text transform="translate(337.27,711.8) scale(1.0400,1)" font-size="18.8" font-weight="normal" fill="#000" stroke="#000" stroke-width="0.36" stroke-linejoin="round">17</text>
<text transform="translate(78.72,739.9) scale(1.0200,1)" font-size="18.8" font-weight="normal" fill="#000" stroke="#000" stroke-width="0.36" stroke-linejoin="round">4</text>
<text transform="translate(148.02,739.9) scale(1.0400,1)" font-size="18.8" font-weight="normal" fill="#000" stroke="#000" stroke-width="0.36" stroke-linejoin="round">407</text>
<text transform="translate(236.63,739.9) scale(1.0400,1)" font-size="18.8" font-weight="normal" fill="#000" stroke="#000" stroke-width="0.36" stroke-linejoin="round">226</text>
<text transform="translate(326.42,739.9) scale(1.0400,1)" font-size="18.8" font-weight="normal" fill="#000" stroke="#000" stroke-width="0.36" stroke-linejoin="round">797</text>
<path d="M70,647H52.6V519.4H66" fill="none" stroke="#000" stroke-width="3.4"/>
<polygon points="74.2,519.4 63.9,524.6 63.9,514.2" fill="#000"/>
<path d="M364.4,520.9H382.8V646.6H373" fill="none" stroke="#000" stroke-width="3.4"/>
<polygon points="365.0,646.6 374.6,641.3 374.6,651.9" fill="#000"/>
<text transform="translate(4.62,785.7) scale(0.7814,1)" font-size="27.1" font-weight="bold" fill="#000"  stroke="#000" stroke-width="0.22" stroke-linejoin="round">F</text>
<text transform="translate(78.42,772.2) scale(0.9623,1)" font-size="15.6" font-weight="bold" fill="#000"  stroke="#000" stroke-width="0.12" stroke-linejoin="round">Lumping</text>
<text transform="translate(71.54,956.7) scale(0.9927,1)" font-size="15.4" font-weight="bold" fill="#000"  stroke="#000" stroke-width="0.12" stroke-linejoin="round">Splitting</text>
<text transform="translate(140.58,834.3) scale(0.9769,1)" font-size="15.3" font-weight="bold" fill="#000"  stroke="#000" stroke-width="0.12" stroke-linejoin="round">4 clusters produced</text>
<line x1="103.0" y1="851.5" x2="103.0" y2="788.0" stroke="#000" stroke-width="3.4" />
<polygon points="103.0,779.3 109.4,789.7 96.6,789.7" fill="#000"/>
<line x1="103.0" y1="867.7" x2="103.0" y2="931.0" stroke="#000" stroke-width="3.4" />
<polygon points="103.0,939.5 96.6,929.1 109.4,929.1" fill="#000"/>
<path d="M591.8,683.6V737.3" fill="none" stroke="#0a0af0" stroke-width="1.7"/>
<path d="M478.6,762.3V737.3H704.4V987" fill="none" stroke="#0a0af0" stroke-width="1.7"/>
<path d="M369.5,794.5V762.3H557.8V833.6" fill="none" stroke="#0a0af0" stroke-width="1.7"/>
<path d="M303.7,866.2V794.5H435.9V1050" fill="none" stroke="#0a0af0" stroke-width="1.7"/>
<path d="M243.4,911V866.2H363V1010.2" fill="none" stroke="#0a0af0" stroke-width="1.7"/>
<path d="M338.8,1050V1010.2H387.6V1050" fill="none" stroke="#0a0af0" stroke-width="1.7"/>
<path d="M198.6,932.3V911H290.3V1050" fill="none" stroke="#0a0af0" stroke-width="1.7"/>
<path d="M155.5,1004.4V932.3H240.3V1050" fill="none" stroke="#0a0af0" stroke-width="1.7"/>
<path d="M118.9,1050V1004.4H192.2V1050" fill="none" stroke="#0a0af0" stroke-width="1.7"/>
<path d="M508.9,1022V833.6H607V961.5" fill="none" stroke="#0a0af0" stroke-width="1.7"/>
<path d="M485.4,1050V1022H533.7V1050" fill="none" stroke="#0a0af0" stroke-width="1.7"/>
<path d="M582.7,1050V961.5H631V1050" fill="none" stroke="#0a0af0" stroke-width="1.7"/>
<path d="M680.7,1050V987H729.1V1050" fill="none" stroke="#0a0af0" stroke-width="1.7"/>
<line x1="294.9" y1="781.2" x2="308.8" y2="781.2" stroke="#000" stroke-width="2.8" />
<line x1="314.1" y1="781.2" x2="328.0" y2="781.2" stroke="#000" stroke-width="2.8" />
<line x1="333.3" y1="781.2" x2="347.2" y2="781.2" stroke="#000" stroke-width="2.8" />
<line x1="352.5" y1="781.2" x2="366.4" y2="781.2" stroke="#000" stroke-width="2.8" />
<line x1="371.7" y1="781.2" x2="385.6" y2="781.2" stroke="#000" stroke-width="2.8" />
<line x1="390.9" y1="781.2" x2="404.8" y2="781.2" stroke="#000" stroke-width="2.8" />
<line x1="410.1" y1="781.2" x2="424.0" y2="781.2" stroke="#000" stroke-width="2.8" />
<line x1="429.3" y1="781.2" x2="443.2" y2="781.2" stroke="#000" stroke-width="2.8" />
<line x1="474.3" y1="928.0" x2="488.6" y2="928.0" stroke="#000" stroke-width="2.8" />
<line x1="493.8" y1="928.0" x2="508.1" y2="928.0" stroke="#000" stroke-width="2.8" />
<line x1="513.3" y1="928.0" x2="527.6" y2="928.0" stroke="#000" stroke-width="2.8" />
<line x1="532.8" y1="928.0" x2="547.1" y2="928.0" stroke="#000" stroke-width="2.8" />
<line x1="571.5" y1="900.3" x2="585.8" y2="900.3" stroke="#000" stroke-width="2.8" />
<line x1="591.0" y1="900.3" x2="605.3" y2="900.3" stroke="#000" stroke-width="2.8" />
<line x1="610.5" y1="900.3" x2="624.8" y2="900.3" stroke="#000" stroke-width="2.8" />
<line x1="630.0" y1="900.3" x2="644.3" y2="900.3" stroke="#000" stroke-width="2.8" />
<line x1="670.5" y1="856.8" x2="684.8" y2="856.8" stroke="#000" stroke-width="2.8" />
<line x1="690.0" y1="856.8" x2="704.3" y2="856.8" stroke="#000" stroke-width="2.8" />
<line x1="709.5" y1="856.8" x2="723.8" y2="856.8" stroke="#000" stroke-width="2.8" />
<line x1="729.0" y1="856.8" x2="743.3" y2="856.8" stroke="#000" stroke-width="2.8" />
<text transform="translate(561.90,753.7) scale(1.0690,1)" font-size="14.4" font-weight="bold" fill="#22b14c"  stroke="#22b14c" stroke-width="0.12" stroke-linejoin="round">p &lt;= 0.05</text>
<text transform="translate(445.99,778.9) scale(1.0773,1)" font-size="14.4" font-weight="bold" fill="#22b14c"  stroke="#22b14c" stroke-width="0.12" stroke-linejoin="round">p &lt;= 0.05</text>
<text transform="translate(525.19,851.8) scale(1.0773,1)" font-size="14.4" font-weight="bold" fill="#22b14c"  stroke="#22b14c" stroke-width="0.12" stroke-linejoin="round">p &lt;= 0.05</text>
<text transform="translate(341.99,811.5) scale(1.0787,1)" font-size="14.4" font-weight="bold" fill="#ee1c24"  stroke="#ee1c24" stroke-width="0.12" stroke-linejoin="round">p &gt; 0.05</text>
<text transform="translate(578.78,977.7) scale(1.0942,1)" font-size="14.4" font-weight="bold" fill="#ee1c24"  stroke="#ee1c24" stroke-width="0.12" stroke-linejoin="round">p &gt; 0.05</text>
<text transform="translate(675.58,1002.7) scale(1.0865,1)" font-size="14.4" font-weight="bold" fill="#ee1c24"  stroke="#ee1c24" stroke-width="0.12" stroke-linejoin="round">p &gt; 0.05</text>
<text transform="translate(479.38,1040.3) scale(1.0865,1)" font-size="14.4" font-weight="bold" fill="#ee1c24"  stroke="#ee1c24" stroke-width="0.12" stroke-linejoin="round">p &gt; 0.05</text>
</svg>
</body></html>
